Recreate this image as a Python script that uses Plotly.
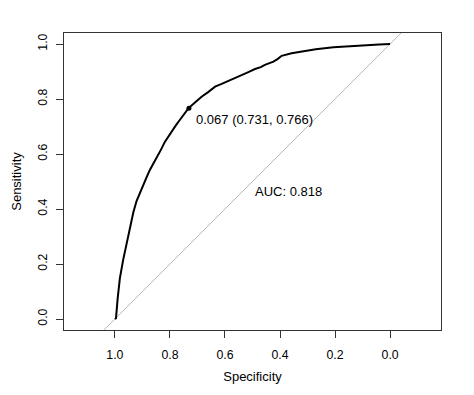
import plotly.graph_objects as go

# ROC curve data (specificity, sensitivity)
specificity = [1.000, 0.996, 0.990, 0.982, 0.970, 0.954, 0.942, 0.933, 0.921, 0.908,
               0.897, 0.885, 0.873, 0.861, 0.848, 0.833, 0.818, 0.803, 0.790, 0.778,
               0.767, 0.750, 0.733, 0.708, 0.685, 0.660, 0.636, 0.612, 0.588, 0.563,
               0.539, 0.515, 0.491, 0.470, 0.455, 0.440, 0.424, 0.408, 0.394, 0.358,
               0.327, 0.270, 0.206, 0.140, 0.085, 0.040, 0.000]
sensitivity = [0.000, 0.003, 0.075, 0.148, 0.215, 0.293, 0.342, 0.388, 0.430, 0.463,
               0.490, 0.515, 0.542, 0.563, 0.587, 0.615, 0.645, 0.668, 0.690, 0.705,
               0.720, 0.742, 0.766, 0.788, 0.808, 0.826, 0.845, 0.855, 0.865, 0.876,
               0.887, 0.898, 0.909, 0.916, 0.924, 0.929, 0.936, 0.946, 0.957, 0.966,
               0.972, 0.981, 0.988, 0.993, 0.996, 0.998, 1.000]

best_threshold = 0.067
best_spec = 0.731
best_sens = 0.766
auc_value = 0.818

diag_x = [1.3, -0.3]
diag_y = [-0.3, 1.3]

tick_vals = [0.0, 0.2, 0.4, 0.6, 0.8, 1.0]
tick_text = ["0.0", "0.2", "0.4", "0.6", "0.8", "1.0"]

FONT = "Liberation Sans, Arial, Helvetica, sans-serif"

fig = go.Figure()
fig.add_trace(go.Scatter(x=diag_x, y=diag_y, mode="lines",
                         line=dict(color="#b8b8b8", width=1), hoverinfo="skip"))
fig.add_trace(go.Scatter(x=specificity, y=sensitivity, mode="lines",
                         line=dict(color="black", width=2)))
fig.add_trace(go.Scatter(x=[best_spec], y=[best_sens], mode="markers",
                         marker=dict(color="black", size=5)))

fig.add_annotation(x=best_spec, y=best_sens, xref="x", yref="y",
                   text=f"{best_threshold:.3f} ({best_spec:.3f}, {best_sens:.3f})",
                   showarrow=False, xanchor="left", yanchor="top",
                   xshift=5, yshift=-2,
                   font=dict(family=FONT, size=13, color="black"))
fig.add_annotation(x=0.5, y=0.5, xref="x", yref="y",
                   text=f"AUC: {auc_value:.3f}",
                   showarrow=False, xanchor="left", yanchor="top",
                   font=dict(family=FONT, size=13, color="black"))

fig.update_layout(
    width=466, height=387,
    margin=dict(l=56, r=33, t=25, b=65),
    paper_bgcolor="white", plot_bgcolor="white",
    showlegend=False,
    font=dict(family=FONT, size=12, color="black"),
)
fig.update_xaxes(range=[1.185, -0.185], tickvals=tick_vals, ticktext=tick_text,
                 showgrid=False, zeroline=False, showline=True, mirror=True,
                 linecolor="#333333", linewidth=1, ticks="outside", ticklen=7,
                 tickcolor="#333333", tickfont=dict(size=12.3), automargin=False,
                 ticklabelstandoff=6,
                 title=dict(text="Specificity", font=dict(size=13), standoff=11))
fig.update_yaxes(range=[-0.04, 1.04], tickvals=tick_vals, ticktext=tick_text,
                 showgrid=False, zeroline=False, showline=True, mirror=True,
                 linecolor="#333333", linewidth=1, ticks="outside", ticklen=7,
                 tickcolor="#333333", tickangle=-90, tickfont=dict(size=12.3),
                 automargin=False, ticklabelstandoff=4,
                 title=dict(text="Sensitivity", font=dict(size=13), standoff=11))

fig.write_html("out.html")
